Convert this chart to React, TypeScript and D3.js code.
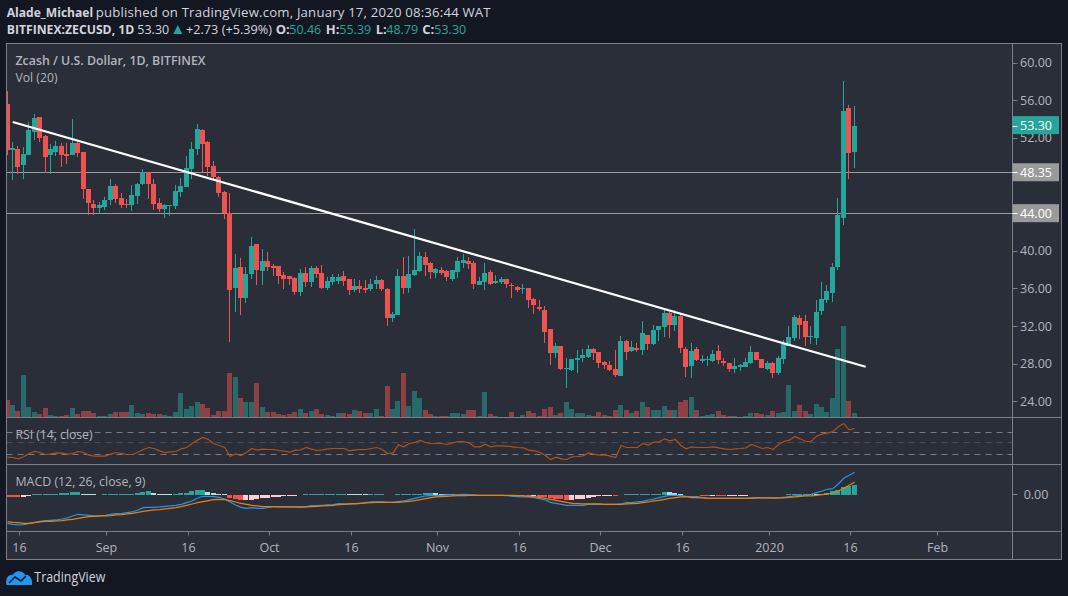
import React from "react";
import * as d3 from "d3";

// ---------- data ----------
const priceOpen = [
  55.60,50.71,50.82,49.12,50.18,52.63,54.22,52.20,50.18,50.50,
  51.14,50.29,50.18,51.46,50.50,46.57,44.97,44.55,44.65,45.40,
  46.88,45.61,44.97,44.86,45.82,47.10,48.37,47.10,45.08,44.44,
  44.76,44.76,46.25,46.78,48.69,50.82,52.84,51.56,49.01,47.84,
  46.25,44.01,36.04,38.27,34.98,37.53,40.72,37.85,38.91,38.38,
  38.38,37.42,37.32,37.10,35.61,37.63,36.68,38.17,37.63,36.04,
  36.68,36.78,37.32,37.00,35.83,36.25,36.04,35.93,36.46,36.89,
  35.93,32.85,33.17,37.32,36.04,37.42,37.85,39.34,38.70,37.63,
  37.95,37.85,37.00,37.74,38.70,38.91,38.70,36.36,36.68,37.74,
  36.57,36.68,37.00,36.36,36.15,35.93,36.04,34.87,34.02,33.70,
  31.68,29.13,29.87,27.43,27.32,28.38,28.60,28.70,29.55,29.23,
  28.17,27.85,27.43,26.68,30.40,29.34,29.66,29.45,31.04,30.09,
  31.57,31.89,33.38,32.11,33.06,29.55,27.75,29.55,28.28,28.38,
  28.28,29.34,28.28,28.07,27.43,27.64,27.64,28.07,29.23,28.49,
  27.43,28.07,27.00,28.49,29.87,30.72,32.85,32.53,30.83,30.72,
  33.59,34.76,35.51,38.27,43.48,55.18,50.46,
];
const priceHigh = [
  56.98,51.56,51.14,51.03,53.69,54.54,54.22,52.31,51.35,51.67,
  51.46,51.46,54.01,51.56,50.50,46.57,45.40,45.18,45.72,47.63,
  47.10,46.14,45.50,46.99,47.20,48.69,48.37,47.63,45.61,44.97,
  44.86,46.99,47.73,50.07,51.56,53.48,52.94,51.67,49.54,47.95,
  46.35,46.14,39.66,39.23,38.27,41.46,40.72,40.19,39.87,38.59,
  38.38,37.74,37.32,37.21,38.06,38.27,38.38,38.38,38.49,37.21,
  37.53,37.53,37.85,37.00,37.00,36.89,36.89,37.00,37.32,37.00,
  36.04,33.49,38.06,39.34,39.44,42.31,39.87,39.87,38.80,38.17,
  38.27,37.95,37.95,39.34,39.66,39.34,38.91,37.21,38.70,37.95,
  37.42,37.21,37.00,36.57,36.25,36.46,36.04,34.98,34.76,34.13,
  31.68,30.19,29.87,28.60,28.49,29.45,29.55,29.98,29.66,29.23,
  28.28,28.28,29.45,30.94,30.51,30.40,30.19,32.53,31.04,32.11,
  32.00,33.91,33.49,33.70,33.28,29.77,30.19,29.77,28.92,28.81,
  29.45,29.98,28.60,28.07,28.60,27.96,28.60,29.87,29.23,28.49,
  28.28,28.17,28.81,30.51,32.00,33.17,33.17,33.17,32.00,34.76,
  36.68,36.36,38.70,45.61,58.05,55.50,55.39,
];
const priceLow = [
  50.18,47.52,48.16,47.63,50.18,51.78,51.56,48.27,48.16,50.07,
  48.90,49.22,50.18,49.97,45.50,43.80,43.80,43.91,44.33,44.86,
  45.08,44.55,44.55,44.23,44.97,46.99,45.50,44.33,44.12,43.48,
  43.70,44.44,45.72,46.78,47.63,50.18,48.37,47.95,47.63,45.72,
  43.38,30.30,33.49,33.17,34.44,37.00,36.36,36.36,37.85,37.32,
  36.46,35.93,36.36,35.30,35.19,36.15,36.15,37.10,35.93,35.83,
  36.36,36.46,36.25,35.30,35.61,35.51,35.51,35.72,35.93,35.72,
  32.00,32.42,33.17,35.40,35.51,37.32,37.74,37.32,37.00,37.10,
  37.42,36.78,36.78,37.10,38.17,38.06,35.93,36.36,35.83,36.36,
  36.46,36.46,36.04,34.98,35.61,35.40,33.91,33.28,33.59,30.19,
  27.85,28.60,27.32,25.41,27.22,27.00,28.17,28.60,28.38,27.53,
  27.43,27.22,26.58,26.68,28.38,29.23,29.23,28.92,29.45,29.98,
  30.40,30.83,30.72,31.47,29.13,26.58,26.47,28.28,28.07,27.75,
  28.17,27.96,27.75,27.11,27.00,27.22,27.64,27.96,28.38,27.53,
  27.32,26.47,26.79,27.96,29.87,30.40,30.62,29.87,30.09,29.98,
  33.17,34.44,34.55,37.95,42.74,47.63,48.79,
];
const priceClose = [
  50.71,50.92,48.90,50.29,52.84,54.11,51.99,49.97,50.82,51.14,
  50.18,50.07,51.46,50.39,46.57,45.08,44.55,44.86,45.40,46.88,
  45.50,44.86,44.86,45.93,47.10,48.37,47.10,44.97,44.44,44.86,
  44.86,46.35,46.88,48.80,50.82,52.94,51.35,48.90,47.84,46.14,
  44.01,35.83,38.17,34.98,37.53,40.50,37.95,38.91,38.27,38.17,
  37.32,37.00,37.00,35.61,37.63,36.68,38.17,37.53,36.04,36.78,
  37.21,37.21,36.78,35.83,36.25,35.93,35.83,36.46,36.89,35.93,
  32.85,33.28,37.32,36.04,37.53,37.95,39.44,38.49,37.74,38.06,
  37.63,37.21,37.95,38.91,39.02,38.59,36.46,36.78,37.63,36.46,
  36.78,37.00,36.46,36.25,35.83,36.04,34.76,34.23,33.81,31.36,
  29.13,29.87,27.43,27.53,28.49,28.60,28.92,29.55,29.13,28.07,
  27.85,27.32,26.79,30.40,29.23,29.77,29.45,31.26,30.09,31.57,
  32.00,33.38,32.11,33.06,29.66,27.64,29.34,28.38,28.49,28.49,
  29.02,28.38,28.07,27.43,27.75,27.85,28.17,29.23,28.38,27.53,
  28.07,27.00,28.60,30.09,30.83,32.96,32.11,30.83,30.94,33.49,
  34.87,35.72,38.27,43.80,54.86,50.39,53.30,
];
const volume = [
  18,13,7,43,11,6,4,10,3,2,
  2,3,10,4,7,7,5,2,2,4,
  6,6,6,13,5,4,5,4,4,3,
  2,6,25,9,12,16,14,10,3,7,
  7,45,41,19,16,16,35,11,6,6,
  4,3,4,6,9,5,7,9,4,3,
  2,5,5,4,8,7,5,5,9,2,
  32,9,17,45,12,27,19,8,4,2,
  2,2,5,5,4,8,8,2,26,4,
  2,1,1,6,1,3,7,5,2,9,
  11,3,5,16,9,5,5,3,2,6,
  3,2,8,13,8,5,7,16,11,8,
  8,12,8,8,16,18,21,8,2,3,
  4,7,3,2,2,1,2,5,5,4,
  3,7,5,6,33,7,13,7,4,14,
  11,6,19,69,92,17,5,
];
const rsi = [
  25.2,24.5,22.1,25.8,31.8,35.5,33.6,30,31.2,33,
  32.4,30.6,31.8,35.5,33.6,28.8,27,27,27,30.6,
  33.6,31.8,30,30,34.2,39.1,42.7,40.9,36.7,33.6,
  34.8,35.5,40.3,42.7,50,56.1,60.9,57.3,49.4,46.4,
  42.7,26.4,31.2,28.2,33.6,40.9,37.9,39.7,39.1,39.1,
  37.3,36.1,34.2,37.9,38.5,42.7,39.7,37.3,38.5,40.3,
  40.9,40.9,40.9,36.7,38.5,39.1,39.1,40.9,42.7,39.1,
  31.8,33,47.6,43.9,50,51.8,55.5,51.8,50,50,
  50,48.2,51.2,53.6,53.6,51.2,43.9,43.9,48.2,43.9,
  45.8,45.8,45.2,43.9,42.7,42.1,37.9,36.7,34.2,28.8,
  20.9,25.2,22.1,20.9,25.8,26.4,27.6,33,30.6,28.8,
  29.4,27,24.5,46.4,42.7,42.7,42.7,50,47,52.4,
  53,58.5,54.8,57.3,46.4,40.3,43.9,42.7,42.7,42.7,
  43.9,42.1,40.3,39.1,40.3,40.9,42.1,48.2,44.5,40.9,
  42.7,39.1,48.2,53.6,56.1,62.7,58.5,53.6,53.6,63.3,
  67,68.8,71.8,80.3,86.4,74.8,77.3,
];
const macd = [
  -8.4,-8.7,-8.9,-8.8,-8.4,-8.1,-7.8,-7.6,-7.5,-7.4,
  -7.1,-6.8,-6.2,-5.7,-5.9,-6.0,-6.2,-6.2,-6.0,-5.7,
  -5.5,-5.5,-5.2,-5.0,-4.4,-3.7,-3.6,-3.6,-3.5,-3.3,
  -3.2,-3.0,-2.7,-2.2,-1.7,-0.8,-0.3,-0.3,-0.4,-0.6,
  -1.1,-2.0,-2.9,-3.6,-3.9,-3.7,-3.9,-3.9,-3.6,-3.4,
  -3.4,-3.5,-3.5,-3.5,-3.6,-3.4,-3.1,-3.1,-3.0,-2.9,
  -2.8,-2.5,-2.6,-2.6,-2.6,-2.4,-2.2,-2.0,-2.0,-2.0,
  -2.1,-2.1,-1.9,-1.7,-1.3,-0.9,-0.5,-0.2,-0.1,-0.1,
  0,0.1,0.1,0.2,0.3,0.2,0.1,0,0,0,
  0,0,-0.1,-0.3,-0.4,-0.5,-0.5,-0.7,-1.0,-1.4,
  -2.1,-2.4,-2.7,-3.0,-3.0,-3.0,-3.0,-2.7,-2.7,-2.7,
  -2.7,-2.7,-2.7,-2.6,-2.2,-2.2,-2.0,-1.8,-1.4,-1.1,
  -0.7,-0.3,0,0,-0.1,-0.3,-0.4,-0.4,-0.7,-0.9,
  -0.9,-0.9,-0.9,-0.9,-0.9,-0.9,-0.9,-0.8,-0.7,-0.8,
  -0.7,-0.9,-0.8,-0.6,-0.4,-0.2,-0.1,0,0.3,0.8,
  1.3,1.8,2.0,3.4,5.1,6.0,6.9,
];
const signal = [
  -7.9,-8.1,-8.2,-8.4,-8.4,-8.2,-8.0,-7.8,-7.8,-7.7,
  -7.6,-7.4,-7.2,-6.9,-6.6,-6.4,-6.3,-6.2,-6.2,-6.1,
  -5.9,-5.8,-5.6,-5.4,-5.1,-4.8,-4.6,-4.4,-4.3,-4.1,
  -3.9,-3.7,-3.4,-3.0,-2.6,-2.2,-1.9,-1.6,-1.3,-1.2,
  -1.3,-1.6,-2.0,-2.4,-2.7,-3.0,-3.2,-3.4,-3.4,-3.4,
  -3.5,-3.5,-3.5,-3.5,-3.5,-3.5,-3.4,-3.3,-3.2,-3.1,
  -3.0,-2.8,-2.7,-2.6,-2.5,-2.4,-2.3,-2.2,-2.1,-2.1,
  -2.1,-2.1,-2.1,-2.0,-1.8,-1.6,-1.3,-1.0,-0.7,-0.5,
  -0.4,-0.3,-0.2,-0.1,-0.1,0,0,0,0,0,
  0,0,0,0,-0.1,-0.2,-0.3,-0.4,-0.6,-0.9,
  -1.2,-1.5,-1.8,-2.1,-2.4,-2.5,-2.6,-2.6,-2.6,-2.6,
  -2.7,-2.7,-2.7,-2.7,-2.6,-2.5,-2.4,-2.2,-2.0,-1.7,
  -1.5,-1.2,-0.9,-0.7,-0.5,-0.4,-0.7,-0.7,-0.8,-0.9,
  -0.9,-0.9,-0.9,-0.9,-0.9,-0.9,-0.9,-0.9,-0.8,-0.8,
  -0.8,-0.8,-0.8,-0.8,-0.6,-0.5,-0.3,-0.2,-0.2,0,
  0.2,0.4,0.7,1.3,2.1,3.0,3.9,
];
const histogram = [
  -0.4,-0.5,-0.6,-0.5,-0.3,0.1,0.15,0.2,0.22,0.5,
  0.6,0.7,0.9,0.9,0.4,0.3,0.1,0,0.1,0.1,
  0.2,0.2,0.4,0.5,0.6,0.9,1.2,0.6,0.4,0.3,
  0.25,0.4,0.6,0.7,1.2,1.5,1.5,1.1,0.8,0.3,
  0.1,-0.8,-1.2,-1.5,-1.4,-1.3,-1.2,-0.9,-0.7,-0.5,
  -0.4,-0.3,-0.2,-0.1,0,0.1,0.1,0.1,0.1,0.2,
  0.2,0.3,0.3,0.2,0.15,0.12,0.1,0.1,0.1,0.1,
  0,0,0.1,0.1,0.2,0.3,0.5,0.7,0.7,0.6,
  0.5,0.3,0.2,0,0,0,0,0,0,0,
  0,0,0,0,0,-0.1,-0.2,-0.2,-0.4,-0.6,
  -0.9,-1.1,-1.2,-1.4,-1.3,-1.1,-1.0,-0.9,-0.4,-0.3,
  -0.2,-0.15,-0.16,0,0.1,0.1,0.1,0.2,0.3,0.4,
  0.5,0.9,0.85,0.8,0.5,0,0,0,-0.15,-0.2,
  -0.15,-0.2,-0.25,-0.15,-0.15,-0.1,-0.1,0,0,0,
  0,0,0,0,0.2,0.5,0.5,0.5,0.2,0.15,
  0.5,0.6,1.2,1.5,2.6,2.7,3.0,
];
const priceTicks = [60, 56, 52, 40, 36, 32, 28, 24];
const levelLines = [48.35, 44.0];
const lastPrice = 53.3;
const timeTickIndex = [2, 18, 33, 48, 63, 79, 94, 109, 124, 140, 155, 171];
const timeTickLabels = ["16", "Sep", "16", "Oct", "16", "Nov", "16", "Dec", "16", "2020", "16", "Feb"];
const trendIndex = [0.96, 158.04];
const trendPrice = [53.69, 27.67];
const rsiBands = [70, 50, 30];

// ---------- palette / frame ----------
const UP = "#26a69a";
const DOWN = "#ef5350";
const W = 1068, H = 596;
const L = 6.5, R = 1061.5, AX = 1012.5, TOP = 43.5, BOT = 559.5, P1 = 417.5, P2 = 464.5, P3 = 531.5;
const FONT = "'Open Sans', 'Noto Sans', sans-serif";
const TXT = "#b2b5be";

export default function App() {
  const xPos = d3.scaleLinear().domain([0, 1]).range([7.5, 12.93]);
  const col = (i: number) => Math.floor(xPos(i) - 0.5);
  const y = d3.scaleLinear().domain([24, 56]).range([401.3, 100.3]);
  const yVol = d3.scaleLinear().domain([0, 92]).range([P1, P1 - 92]);
  const yRsi = d3.scaleLinear().domain([30, 70]).range([454.5, 432.5]);
  const yMacd = d3.scaleLinear().domain([0, 3]).range([495.3, 485.3]);

  const idx = d3.range(priceClose.length);
  const rsiPath = d3.line<number>().x((i) => xPos(i)).y((i) => yRsi(rsi[i]))(idx) as string;
  const macdPath = d3.line<number>().x((i) => xPos(i)).y((i) => yMacd(macd[i]))(idx) as string;
  const signalPath = d3.line<number>().x((i) => xPos(i)).y((i) => yMacd(signal[i]))(idx) as string;
  const trendPath = d3.line<number>().x((v) => xPos(v)).y((_, k) => y(trendPrice[k]))(trendIndex) as string;

  const histColor = (i: number) => {
    const v = histogram[i];
    const p = i > 0 ? histogram[i - 1] : 0;
    if (v >= 0) return v >= p ? UP : "#b2dfdb";
    return v < p ? DOWN : "#ffcdd2";
  };

  const priceLabelX = 1036;
  const fit = { lengthAdjust: "spacingAndGlyphs" } as const;

  return (
    <svg width={W} height={H} viewBox={`0 0 ${W} ${H}`} style={{ position: "absolute", left: 0, top: 0, display: "block" }} fontFamily={FONT}>
      <defs>
        <clipPath id="paneClip">
          <rect x={L} y={TOP} width={AX - L} height={P1 - TOP} />
        </clipPath>
        <clipPath id="allClip">
          <rect x={L} y={TOP} width={AX - L} height={P3 - TOP} />
        </clipPath>
      </defs>
      <rect width={W} height={H} fill="#131722" />
      <rect x={L} y={TOP} width={R - L} height={BOT - TOP} fill="#2a2e39" />

      {/* header */}
      <g fontSize={13} fill="#d1d4dc">
        <text x={6.7} y={17} fontWeight={700} fontSize={12.1}>Alade_Michael</text>
        <text x={95.7} y={17} fontSize={13.2} letterSpacing={0.18}>published on TradingView.com, January 17, 2020 08:36:44 WAT</text>
        <text x={6.7} y={34} fontWeight={700} fontSize={12.2}>BITFINEX:ZECUSD, 1D</text>
        <text x={137.3} y={34} fontSize={12.5}>53.30</text>
        <text x={186} y={34} fontSize={12.7}>+2.73 (+5.39%)</text>
        <text x={275.7} y={34} fontWeight={700}>O:</text>
        <text x={289.3} y={34} fill={UP} fontSize={12.5}>50.46</text>
        <text x={325.7} y={34} fontWeight={700}>H:</text>
        <text x={339.3} y={34} fill={UP} fontSize={12.5}>55.39</text>
        <text x={375.7} y={34} fontWeight={700}>L:</text>
        <text x={386.3} y={34} fill={UP} fontSize={12.5}>48.79</text>
        <text x={422.3} y={34} fontWeight={700}>C:</text>
        <text x={434.3} y={34} fill={UP} fontSize={12.5}>53.30</text>
      </g>
      <path d="M177.8 25 L182.3 34 L173.3 34 Z" fill={UP} />

      {/* volume */}
      <g clipPath="url(#paneClip)">
        {idx.map((i) => (
          <rect
            key={"v" + i}
            x={col(i) - 2}
            width={5}
            y={Math.round(yVol(volume[i]))}
            height={P1 - Math.round(yVol(volume[i]))}
            fill={priceClose[i] >= priceOpen[i] ? UP : DOWN}
            opacity={0.5}
            shapeRendering="crispEdges"
          />
        ))}
      </g>

      {/* horizontal levels */}
      {levelLines.map((p) => (
        <line key={p} x1={L} x2={AX} y1={Math.round(y(p)) + 0.5} y2={Math.round(y(p)) + 0.5} stroke="#9a9a9a" strokeWidth={1} />
      ))}

      {/* candles */}
      <g clipPath="url(#paneClip)" shapeRendering="crispEdges">
        {idx.map((i) => {
          const up = priceClose[i] >= priceOpen[i];
          const c = up ? UP : DOWN;
          const t = Math.round(y(Math.max(priceOpen[i], priceClose[i])));
          const b = Math.round(y(Math.min(priceOpen[i], priceClose[i])));
          const hi = Math.round(y(priceHigh[i]));
          const lo = Math.round(y(priceLow[i]));
          return (
            <g key={"c" + i} fill={c}>
              <rect x={col(i)} width={1} y={hi} height={Math.max(1, lo - hi)} />
              <rect x={col(i) - 2} width={5} y={t} height={Math.max(1, b - t)} />
            </g>
          );
        })}
      </g>

      {/* trend line */}
      <path d={trendPath} stroke="#ffffff" strokeWidth={2.2} fill="none" clipPath="url(#paneClip)" />

      {/* RSI */}
      {rsiBands.map((v) => (
        <line
          key={v}
          x1={L}
          x2={AX}
          y1={yRsi(v) - (v === 50 ? 0.9 : 0)}
          y2={yRsi(v) - (v === 50 ? 0.9 : 0)}
          stroke={v === 50 ? "#4c505a" : "#787b86"}
          strokeDasharray="6 5"
          strokeWidth={1}
        />
      ))}
      <path d={rsiPath} stroke="#b5500f" strokeWidth={1.2} fill="none" clipPath="url(#allClip)" />

      {/* MACD */}
      <g clipPath="url(#allClip)" shapeRendering="crispEdges">
        {idx.map((i) => {
          const v = histogram[i];
          if (v === 0) return null;
          const z = Math.round(yMacd(0));
          const p = Math.round(yMacd(v));
          return (
            <rect
              key={"h" + i}
              x={col(i) - 2}
              width={5}
              y={v > 0 ? Math.min(p, z - 1) : z}
              height={Math.max(1, Math.abs(p - z))}
              fill={histColor(i)}
            />
          );
        })}
      </g>
      <path d={macdPath} stroke="#2196f3" strokeWidth={1.2} fill="none" clipPath="url(#allClip)" />
      <path d={signalPath} stroke="#f57c00" strokeWidth={1.2} fill="none" clipPath="url(#allClip)" />

      {/* frame lines */}
      <g stroke="#7d7f86" strokeWidth={1} shapeRendering="crispEdges">
        <rect x={L} y={TOP} width={R - L} height={BOT - TOP} fill="none" />
        <line x1={AX} x2={AX} y1={TOP} y2={BOT} />
        <line x1={L} x2={R} y1={P1} y2={P1} />
        <line x1={L} x2={R} y1={P2} y2={P2} />
        <line x1={L} x2={R} y1={P3} y2={P3} />
      </g>

      {/* price axis */}
      {priceTicks.map((p) => (
        <g key={p}>
          <line x1={AX} x2={AX + 5} y1={Math.round(y(p)) + 0.5} y2={Math.round(y(p)) + 0.5} stroke="#7d7f86" />
          <text x={priceLabelX} y={y(p) + 4.5} fontSize={12.5} fill={TXT} textAnchor="middle">
            {d3.format(".2f")(p)}
          </text>
        </g>
      ))}
      {levelLines.map((p) => (
        <g key={"t" + p}>
          <rect x={AX} y={y(p) - 9} width={46.5} height={18} fill="#9a9a9a" />
          <line x1={AX} x2={AX + 5} y1={Math.round(y(p)) + 0.5} y2={Math.round(y(p)) + 0.5} stroke="#ffffff" />
          <text x={priceLabelX} y={y(p) + 4.5} fontSize={12.5} fill="#ffffff" textAnchor="middle">
            {d3.format(".2f")(p)}
          </text>
        </g>
      ))}
      <g>
        <rect x={AX} y={y(lastPrice) - 9.6} width={46.5} height={18} fill={UP} />
        <line x1={AX} x2={AX + 5} y1={Math.round(y(lastPrice)) + 0.5} y2={Math.round(y(lastPrice)) + 0.5} stroke="#ffffff" />
        <text x={priceLabelX} y={y(lastPrice) + 3.9} fontSize={12.5} fill="#ffffff" textAnchor="middle">
          {d3.format(".2f")(lastPrice)}
        </text>
      </g>
      <line x1={AX} x2={AX + 5} y1={494.5} y2={494.5} stroke="#7d7f86" />
      <text x={priceLabelX} y={499} fontSize={12.5} fill={TXT} textAnchor="middle">0.00</text>

      {/* time axis */}
      {timeTickIndex.map((t, k) => {
        const tx = Math.round(xPos(t) + 1) + 0.5;
        return (
          <g key={t}>
            <line x1={tx} x2={tx} y1={P3} y2={P3 + 4} stroke="#7d7f86" />
            <text x={tx} y={551.5} fontSize={12.5} fill={TXT} textAnchor="middle">
              {timeTickLabels[k]}
            </text>
          </g>
        );
      })}

      {/* pane legends */}
      <text x={15.5} y={65} fontSize={12.5} fontWeight={600} fill={TXT} textLength={190} {...fit}>Zcash / U.S. Dollar, 1D, BITFINEX</text>
      <text x={15.5} y={82} fontSize={12.5} fill={TXT} textLength={42} {...fit}>Vol (20)</text>
      <text x={15.5} y={439} fontSize={12.5} fill={TXT} textLength={77} {...fit}>RSI (14, close)</text>
      <text x={15.5} y={486} fontSize={12.5} fill={TXT} textLength={130} {...fit}>MACD (12, 26, close, 9)</text>

      {/* brand */}
      <path
        d="M6.5 585 C5 578 9 574 13 575 C15 570 23 570 25 575 C29 574 33 579 32 585 Z"
        fill="#2196f3"
      />
      <path d="M9 583 L15 577 L21 581 L26 576" stroke="#131722" strokeWidth={1.6} fill="none" />
      <text x={34.3} y={582} fontSize={14} fill="#d1d4dc" textLength={71} {...fit}>TradingView</text>
    </svg>
  );
}
